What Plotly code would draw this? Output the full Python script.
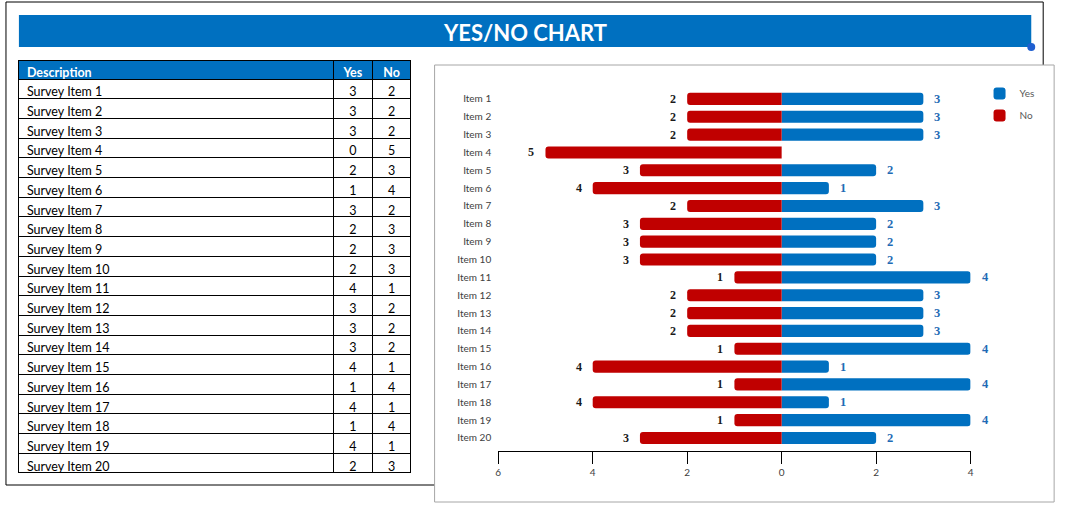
import plotly.graph_objects as go

W, H = 1080, 513

descriptions = [f"Survey Item {i}" for i in range(1, 21)]
items = [f"Item {i}" for i in range(1, 21)]
yes_vals = [3, 3, 3, 0, 2, 1, 3, 2, 2, 2, 4, 3, 3, 3, 4, 1, 4, 1, 4, 2]
no_vals = [2, 2, 2, 5, 3, 4, 2, 3, 3, 3, 1, 2, 2, 2, 1, 4, 1, 4, 1, 3]
x_tickvals = [-6, -4, -2, 0, 2, 4]
x_ticktext = ["6", "4", "2", "0", "2", "4"]

BLUE = "#0070C0"
RED = "#C00000"


def px(x):
    return x / W


def py(y):
    return 1 - y / H


fig = go.Figure()

# Table
fig.add_trace(go.Table(
    domain=dict(x=[px(16), px(411)], y=[py(474), py(60)]),
    columnwidth=[317, 39, 39],
    header=dict(
        values=["Description", "Yes", "No"],
        fill_color=BLUE,
        line=dict(color="black", width=1),
        font=dict(family="Lato", size=12.5, color="white", weight=700),
        align=["left", "center", "center"],
        height=19,
    ),
    cells=dict(
        values=[descriptions, yes_vals, no_vals],
        fill_color="white",
        line=dict(color="black", width=1),
        font=dict(family="Lato", size=12.5, color="black"),
        align=["left", "center", "center"],
        height=19.7,
    ),
))

# Bars
fig.add_trace(go.Bar(
    name="Yes", y=items, x=yes_vals, orientation="h", legendgroup="yes",
    marker=dict(color=BLUE, line=dict(width=0)), width=0.68,
))
fig.add_trace(go.Bar(
    name="No", y=items, x=[-v for v in no_vals], orientation="h", legendgroup="no",
    marker=dict(color=RED, line=dict(width=0)), width=0.68,
))

LABEL_FONT = "Liberation Serif, Times New Roman, serif"
annotations = []
for it, yv, nv in zip(items, yes_vals, no_vals):
    if yv > 0:
        annotations.append(dict(
            x=yv, y=it, xref="x", yref="y", text=f"{yv}", showarrow=False,
            xanchor="left", xshift=9,
            font=dict(family=LABEL_FONT, size=12.5, color="#1F6BB5", weight=600),
        ))
    if nv > 0:
        annotations.append(dict(
            x=-nv, y=it, xref="x", yref="y", text=f"<b>{nv}</b>", showarrow=False,
            xanchor="right", xshift=-9,
            font=dict(family=LABEL_FONT, size=12, color="#1a1a1a"),
        ))

annotations.append(dict(
    x=px(525), y=py(32), xref="paper", yref="paper", text="<b>YES/NO CHART</b>",
    showarrow=False, xanchor="center", yanchor="middle",
    font=dict(family="Lato", size=22, color="white"),
))

shapes = [
    # outer border
    dict(type="rect", xref="paper", yref="paper", x0=px(3), x1=px(1046), y0=py(485), y1=py(2),
         line=dict(color="black", width=1), fillcolor="white", layer="below"),
    # title banner
    dict(type="rect", xref="paper", yref="paper", x0=px(16), x1=px(1034), y0=py(47), y1=py(15),
         line=dict(width=0), fillcolor=BLUE, layer="below"),
    # handle dot
    dict(type="circle", xref="paper", yref="paper", x0=px(1030), x1=px(1038), y0=py(51), y1=py(43),
         line=dict(width=0), fillcolor="#1F5FD0", layer="below"),
    # chart panel
    dict(type="rect", xref="paper", yref="paper", x0=px(434), x1=px(1057), y0=py(502), y1=py(65),
         line=dict(color="#A6A6A6", width=1), fillcolor="white", layer="below"),
]

fig.update_layout(
    width=W, height=H,
    margin=dict(l=0, r=0, t=0, b=0),
    paper_bgcolor="white", plot_bgcolor="rgba(0,0,0,0)",
    barmode="overlay", barcornerradius=3,
    showlegend=True,
    legend=dict(x=px(982), y=py(79), xanchor="left", yanchor="top",
                font=dict(family="Lato", size=10, color="#595959"),
                bgcolor="rgba(0,0,0,0)", itemwidth=30, traceorder="grouped",
                tracegroupgap=3),
    xaxis=dict(domain=[px(498), px(973)], range=[-6, 4], tickvals=x_tickvals, ticktext=x_ticktext,
               showgrid=False, zeroline=False, showline=True, linecolor="black", linewidth=1,
               ticks="outside", ticklen=12, tickcolor="black", tickwidth=1,
               tickfont=dict(family="Lato", size=10, color="#404040"), fixedrange=True),
    yaxis=dict(domain=[py(451), py(90)], range=[19.73, -0.5], type="category",
               showgrid=False, zeroline=False, showline=False, ticks="",
               ticklabelstandoff=6,
               tickfont=dict(family="Lato", size=10, color="#404040"), fixedrange=True),
    annotations=annotations,
    shapes=shapes,
)

fig.write_html(
    "out.html",
    config={"displayModeBar": False},
    post_script="document.body.style.margin='0';document.body.style.overflow='hidden';",
)
